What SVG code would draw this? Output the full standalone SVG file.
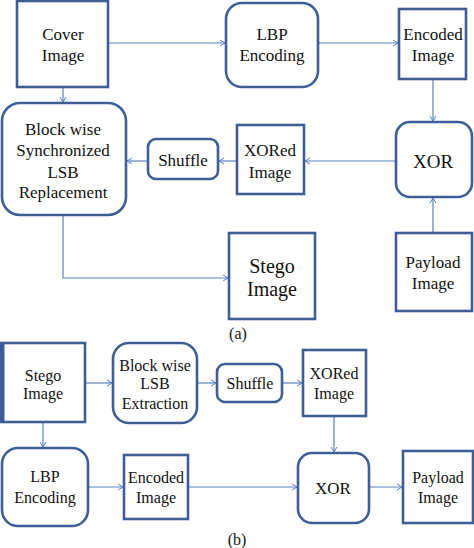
<svg xmlns="http://www.w3.org/2000/svg" width="474" height="548" viewBox="0 0 474 548">
<defs>
<marker id="arr" markerWidth="8" markerHeight="8" refX="6" refY="4" orient="auto" markerUnits="userSpaceOnUse">
<path d="M1,1 L6,4 L1,7" fill="none" stroke="#5b82c0" stroke-width="1"/>
</marker>
<style>
.b{fill:#fff;stroke:#3d5f96;stroke-width:2.6}
.c{fill:none;stroke:#5b82c0;stroke-width:1.2;marker-end:url(#arr)}
text{font-family:"Liberation Serif","Times New Roman",serif;fill:#111;text-anchor:middle;font-size:17px}
.s{font-size:16px}
.l{font-size:20px}
.x{font-size:19px}
</style>
</defs>
<g id="connectors">
<path class="c" d="M108,43 H225"/>
<path class="c" d="M318,43 H398"/>
<path class="c" d="M433,79 V121"/>
<path class="c" d="M63,87 V102"/>
<path class="c" d="M396,161 H305"/>
<path class="c" d="M237,161 H219"/>
<path class="c" d="M148,161 H127"/>
<path class="c" d="M63,215 V278 H228"/>
<path class="c" d="M433,233 V198"/>
<path class="c" d="M85,383 H112"/>
<path class="c" d="M197,383 H216"/>
<path class="c" d="M282,383 H302"/>
<path class="c" d="M43,422 V447"/>
<path class="c" d="M334,416 V452"/>
<path class="c" d="M88,487 H123"/>
<path class="c" d="M188,487 H297"/>
<path class="c" d="M369,487 H402"/>
</g>
<g id="cover">
<rect class="b" x="17" y="1" width="91" height="86"/>
<text x="63" y="40">Cover</text>
<text x="63" y="61">Image</text>
</g>
<g id="lbp-a">
<rect class="b" x="226" y="3" width="92" height="84" rx="16"/>
<text x="272" y="40">LBP</text>
<text x="272" y="61">Encoding</text>
</g>
<g id="encoded-a">
<rect class="b" x="399" y="9" width="67" height="70"/>
<text x="433" y="40">Encoded</text>
<text x="433" y="61">Image</text>
</g>
<g id="xor-a">
<rect class="b" x="396" y="122" width="76" height="75" rx="14"/>
<text class="x" x="433" y="168">XOR</text>
</g>
<g id="xored-a">
<rect class="b" x="237" y="125" width="67" height="69"/>
<text x="270" y="156">XORed</text>
<text x="270" y="178">Image</text>
</g>
<g id="shuffle-a">
<rect class="b" x="148" y="139" width="70" height="40" rx="8"/>
<text x="183" y="166">Shuffle</text>
</g>
<g id="block-a">
<rect class="b" x="2" y="103" width="124" height="112" rx="18"/>
<text x="63" y="135">Block wise</text>
<text x="63" y="156">Synchronized</text>
<text x="63" y="178">LSB</text>
<text x="63" y="198">Replacement</text>
</g>
<g id="stego-a">
<rect class="b" x="229" y="233" width="86" height="86"/>
<text class="l" x="272" y="273">Stego</text>
<text class="l" x="272" y="296">Image</text>
</g>
<g id="payload-a">
<rect class="b" x="396" y="233" width="76" height="78"/>
<text x="433" y="268">Payload</text>
<text x="433" y="289">Image</text>
</g>
<text class="s" x="238" y="339">(a)</text>
<g id="stego-b">
<rect class="b" x="1" y="343" width="84" height="79"/>
<path d="M2.5,343 V422" stroke="#3d5f96" stroke-width="4"/>
<text class="s" x="43" y="381">Stego</text>
<text class="s" x="43" y="399">Image</text>
</g>
<g id="block-b">
<rect class="b" x="113" y="343" width="84" height="80" rx="16"/>
<text class="s" x="155" y="371">Block wise</text>
<text class="s" x="155" y="389">LSB</text>
<text class="s" x="155" y="409">Extraction</text>
</g>
<g id="shuffle-b">
<rect class="b" x="217" y="364" width="65" height="38" rx="8"/>
<text class="s" x="250" y="389">Shuffle</text>
</g>
<g id="xored-b">
<rect class="b" x="303" y="350" width="63" height="66"/>
<text class="s" x="334" y="379">XORed</text>
<text class="s" x="334" y="399">Image</text>
</g>
<g id="lbp-b">
<rect class="b" x="2" y="448" width="86" height="78" rx="16"/>
<text class="s" x="45" y="482">LBP</text>
<text class="s" x="45" y="503">Encoding</text>
</g>
<g id="encoded-b">
<rect class="b" x="124" y="455" width="64" height="64"/>
<text class="s" x="156" y="483">Encoded</text>
<text class="s" x="156" y="503">Image</text>
</g>
<g id="xor-b">
<rect class="b" x="298" y="453" width="71" height="70" rx="14"/>
<text x="333" y="494">XOR</text>
</g>
<g id="payload-b">
<rect class="b" x="403" y="451" width="70" height="72"/>
<text class="s" x="438" y="483">Payload</text>
<text class="s" x="438" y="503">Image</text>
</g>
<text class="s" x="237" y="545">(b)</text>
</svg>
